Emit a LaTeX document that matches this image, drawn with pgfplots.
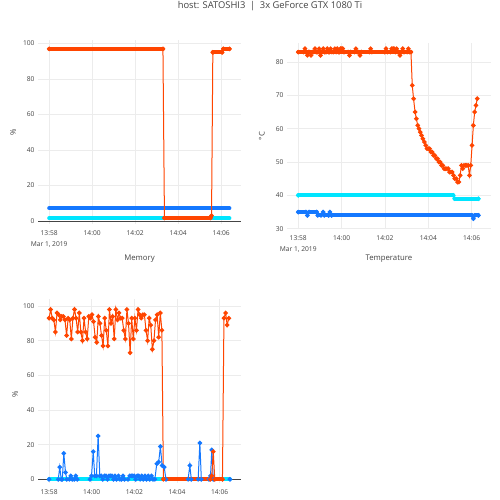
\documentclass[border=0pt]{standalone}
\usepackage{fontspec}
\setmainfont{Open Sans}
\usepackage{pgfplots}
\pgfplotsset{compat=1.18}
\definecolor{redC}{RGB}{255,69,0}
\definecolor{blueC}{RGB}{20,120,255}
\definecolor{cyanC}{RGB}{0,229,255}
\definecolor{txt}{RGB}{68,68,68}
\definecolor{gridc}{RGB}{236,236,236}
\pgfplotsset{
  base/.style={
    scale only axis,
    axis line style={draw=none},
    major tick length=0pt,
    grid=major,
    major grid style={gridc, line width=0.7bp},
    tick label style={font=\fontsize{6.7}{8}\selectfont, text=txt},
    /pgf/number format/assume math mode=true,
    xtick={0,2,4,6,8},
    xticklabels={{13:58\\Mar 1, 2019},14:00,14:02,14:04,14:06},
    xticklabel style={align=center, yshift=-3bp, font=\fontsize{6.7}{11}\selectfont},
    label style={font=\fontsize{7.8}{9}\selectfont, text=txt},
    xmin=-0.52,
  },
  zeroline/.style={
    extra y ticks={0}, extra y tick labels={},
    extra y tick style={grid=major, major grid style={txt, line width=0.9bp}},
  },
  band/.style={#1, line width=4bp, line cap=round, mark=none},
  ser/.style={#1, line width=1bp, mark=*, mark size=1.8bp, mark options={draw=none, fill=#1}},
}
\begin{document}
\begin{tikzpicture}
\useasboundingbox (0bp,0bp) rectangle (500bp,500bp);
\fill[white] (0bp,0bp) rectangle (500bp,500bp);
\node[font=\fontsize{9.4}{11}\selectfont, text=txt] at (270bp,493.5bp) {host: SATOSHI3\enspace|\enspace3x GeForce GTX 1080 Ti};

% ---------------- Memory ----------------
\begin{axis}[base, zeroline, at={(38bp,276bp)}, anchor=south west,
  width=203bp, height=184bp, xmax=8.92, ymin=-1.7, ymax=102,
  ytick={0,20,40,60,80,100},
  xlabel={Memory}, xlabel style={at={(axis description cs:0.5,-0.19)}, anchor=center},
  ylabel={\%}, ylabel style={at={(axis description cs:-0.123,0.5)}, anchor=center}]
\addplot[band=blueC] coordinates {(0,7.2) (8.38,7.2)};
\addplot[band=cyanC] coordinates {(0,1.5) (8.38,1.5)};
\addplot[ser=redC] coordinates {(0,97) (5.29,97) (5.36,1.7) (7.50,1.7) (7.55,3) (7.61,95) (8.04,95) (8.10,97) (8.38,97)};
\addplot[band=redC] coordinates {(0,97) (5.29,97)};
\addplot[band=redC] coordinates {(5.36,1.7) (7.50,1.7)};
\addplot[band=redC] coordinates {(7.61,95) (8.04,95)};
\addplot[band=redC] coordinates {(8.10,97) (8.38,97)};
\end{axis}

% ---------------- Temperature ----------------
\begin{axis}[base, at={(287bp,270.6bp)}, anchor=south west,
  width=203.7bp, height=186.7bp, xmax=8.88, ymin=29.8, ymax=85.8,
  ytick={30,40,50,60,70,80},
  xlabel={Temperature}, xlabel style={at={(axis description cs:0.5,-0.159)}, anchor=center},
  ylabel={°C}, ylabel style={at={(axis description cs:-0.123,0.5)}, anchor=center}]
% blue
\addplot[ser=blueC] coordinates {(0,35)(0.35,35)(0.42,34)(0.5,35)(0.85,35)(0.9,34)(1.05,34)(1.15,35)(1.2,34)(1.4,34)(1.46,35)(1.54,34)(8.01,34)(8.08,33)(8.15,34)(8.31,34)};
\addplot[band=blueC] coordinates {(0,35)(0.35,35)};
\addplot[band=blueC] coordinates {(0.5,35)(0.85,35)};
\addplot[band=blueC] coordinates {(0.9,34)(1.05,34)};
\addplot[band=blueC] coordinates {(1.2,34)(1.4,34)};
\addplot[band=blueC] coordinates {(1.54,34)(8.01,34)};
\addplot[band=blueC] coordinates {(8.15,34)(8.31,34)};
% cyan
\addplot[ser=cyanC] coordinates {(0,40)(7.15,40)(7.22,39)(8.31,39)};
\addplot[band=cyanC] coordinates {(0,40)(7.15,40)};
\addplot[band=cyanC] coordinates {(7.22,39)(8.31,39)};
% red
\addplot[band=redC] coordinates {(0,83)(5.20,83)};
\addplot[ser=redC] coordinates {(0,83)(0.25,83)(0.31,84)(0.37,83)(0.42,82)(0.48,83)(0.53,83)(0.59,82)(0.65,83)(0.71,83)(0.77,84)(0.83,83)(0.90,83)(0.96,84)(1.03,82)(1.09,83)(1.15,84)(1.21,83)(1.28,83)(1.34,84)(1.40,83)(1.43,83)(1.49,84)(1.55,83)(1.63,83)(1.69,84)(1.75,83)(1.80,84)(1.86,83)(1.89,83)(1.95,84)(2.00,84)(2.05,84)(2.11,83)(2.30,83)(2.36,82)(2.42,83)(2.60,83)(2.66,84)(2.72,83)(2.79,83)(2.85,82)(2.91,83)(3.28,83)(3.34,84)(3.40,83)(3.99,83)(4.05,84)(4.11,83)(4.25,83)(4.31,84)(4.37,84)(4.42,84)(4.48,83)(4.54,84)(4.60,83)(4.63,83)(4.69,82)(4.75,83)(4.82,84)(4.88,83)(5.02,83)(5.08,84)(5.14,83)(5.20,83)(5.26,73)(5.32,69)(5.39,65)(5.45,63)(5.51,61)(5.57,60)(5.63,59)(5.69,58)(5.75,57)(5.82,56)(5.88,55)(5.94,54)(6.00,54)(6.06,54)(6.12,53)(6.18,53)(6.24,52)(6.30,52)(6.37,51)(6.43,51)(6.49,50)(6.55,50)(6.61,49)(6.67,49)(6.73,48)(6.79,48)(6.86,48)(6.92,48)(6.98,47)(7.04,47)(7.10,47)(7.16,46)(7.22,45)(7.29,45)(7.35,44)(7.41,44)(7.47,46)(7.53,49)(7.59,48)(7.65,49)(7.72,49)(7.78,49)(7.84,49)(7.90,46)(7.96,49)(8.02,55)(8.08,61)(8.14,65)(8.20,67)(8.26,69)};
\end{axis}

% ---------------- Utilization ----------------
\begin{axis}[base, zeroline, at={(38bp,17.2bp)}, anchor=south west,
  width=203bp, height=183.7bp, xmax=9.0, ymin=-2, ymax=104,
  ytick={0,20,40,60,80,100},
  xticklabels={13:58,14:00,14:02,14:04,14:06},
  ylabel={\%}, ylabel style={at={(axis description cs:-0.113,0.483)}, anchor=center}]
% blue
\addplot[ser=blueC] coordinates {(0,0)(0.43,0)(0.5,7)(0.57,0)(0.62,0)(0.69,15)(0.77,4)(0.83,0)(0.95,0)(1.02,2)(1.09,0)(1.18,0)(1.25,2)(1.32,0)(1.92,0)(1.99,2)(2.07,16)(2.14,2)(2.22,2)(2.30,25)(2.38,2)(2.45,2)(2.52,0)(2.60,2)(2.67,2)(2.74,0)(2.81,2)(2.88,2)(2.95,2)(3.02,0)(3.09,2)(3.16,0)(3.25,2)(3.32,0)(3.40,0)(3.47,2)(3.54,0)(3.70,0)(3.78,2)(3.85,2)(3.92,2)(3.99,2)(4.06,0)(4.13,2)(4.20,2)(4.27,0)(4.35,2)(4.42,0)(4.50,2)(4.57,0)(4.65,2)(4.72,0)(4.80,2)(4.87,0)(4.96,0)(5.05,9)(5.14,10)(5.22,19)(5.30,8)(5.40,7)(5.48,0)(6.52,0)(6.60,8)(6.67,0)(6.99,0)(7.07,21)(7.14,0)(7.50,0)(7.57,2)(7.63,17)(7.70,0)(8.48,0)};
% cyan
\addplot[band=cyanC] coordinates {(0,0)(8.48,0)};
% red
\addplot[band=redC] coordinates {(5.36,0)(8.13,0)};
\addplot[ser=redC] coordinates {(0,93)(0.075,98)(0.149,93)(0.224,92)(0.298,85)(0.373,96)(0.447,95)(0.522,92)(0.596,94)(0.671,94)(0.745,92)(0.820,83)(0.894,93)(0.969,92)(1.043,81)(1.118,93)(1.192,98)(1.267,93)(1.341,85)(1.416,96)(1.490,85)(1.565,80)(1.639,93)(1.714,85)(1.788,81)(1.863,94)(1.937,93)(2.012,95)(2.086,91)(2.161,82)(2.235,79)(2.310,94)(2.384,90)(2.459,83)(2.533,77)(2.608,93)(2.682,86)(2.757,77)(2.831,98)(2.906,90)(2.980,94)(3.055,81)(3.129,98)(3.204,92)(3.278,96)(3.353,93)(3.427,93)(3.502,86)(3.576,81)(3.651,98)(3.725,90)(3.800,73)(3.874,93)(3.949,81)(4.023,93)(4.098,86)(4.172,98)(4.247,95)(4.321,93)(4.396,95)(4.470,95)(4.545,86)(4.619,80)(4.694,93)(4.768,89)(4.843,75)(4.917,80)(4.992,92)(5.066,95)(5.141,82)(5.215,96)(5.290,86)(5.36,0)(7.56,0)(7.63,2)(7.70,16)(7.77,0)(8.13,0)(8.20,93)(8.28,96)(8.35,89)(8.43,93)};
\end{axis}
\end{tikzpicture}
\end{document}
